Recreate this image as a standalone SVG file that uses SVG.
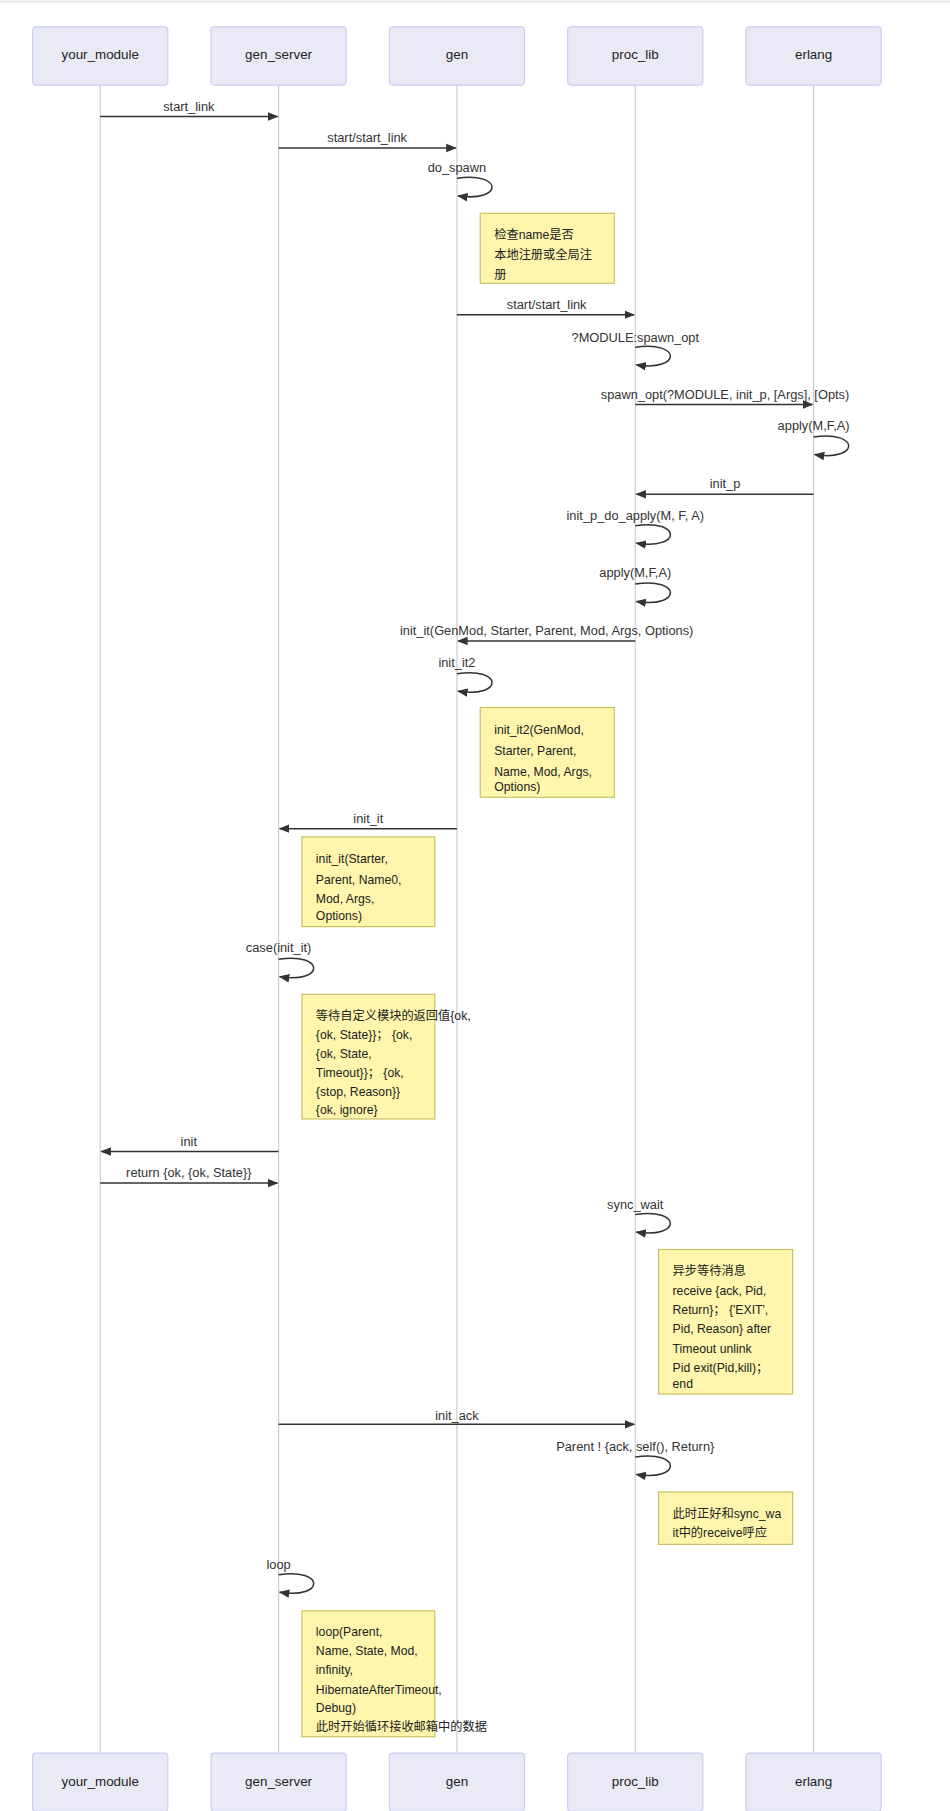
<svg xmlns="http://www.w3.org/2000/svg" width="950" height="1811" viewBox="0 0 950 1811">
<defs>
<style>
.actor{fill:#eaeaf7;stroke:#ccccf5;stroke-width:1}
.atext{font-family:"Liberation Sans","Noto Sans CJK SC",sans-serif;font-size:11.5px;fill:#222;text-anchor:middle;dominant-baseline:middle}
.life{stroke:#ccc;stroke-width:1}
.msg{stroke:#333;stroke-width:1.3;fill:none}
.mtext{font-family:"Liberation Sans","Noto Sans CJK SC",sans-serif;font-size:11px;fill:#333;text-anchor:middle}
.note{fill:#fff5ad;stroke:#c8c060;stroke-width:1}
.ntext{font-family:"Liberation Sans","Noto Sans CJK SC",sans-serif;font-size:10.5px;fill:#222}
</style>
<marker id="arr" viewBox="0 0 10 10" refX="9" refY="5" markerWidth="7" markerHeight="7" orient="auto-start-reverse"><path d="M0,1 L10,5 L0,9 z" fill="#333"/></marker>
</defs>
<rect width="950" height="1811" fill="#fff"/>
<line x1="0" y1="1.5" x2="950" y2="1.5" stroke="#e6e6e6" stroke-width="2"/>
<g transform="scale(1.1656)">
<g id="lifelines">
<line class="life" x1="86" y1="73" x2="86" y2="1505"/>
<line class="life" x1="239" y1="73" x2="239" y2="1505"/>
<line class="life" x1="392" y1="73" x2="392" y2="1505"/>
<line class="life" x1="545" y1="73" x2="545" y2="1505"/>
<line class="life" x1="698" y1="73" x2="698" y2="1505"/>
</g>
<g id="your_module"><rect class="actor" x="28" y="23" width="116" height="50" rx="3"/><text class="atext" x="86" y="48">your_module</text>
<rect class="actor" x="28" y="1504" width="116" height="50" rx="3"/><text class="atext" x="86" y="1529">your_module</text></g>
<g id="gen_server"><rect class="actor" x="181" y="23" width="116" height="50" rx="3"/><text class="atext" x="239" y="48">gen_server</text>
<rect class="actor" x="181" y="1504" width="116" height="50" rx="3"/><text class="atext" x="239" y="1529">gen_server</text></g>
<g id="gen"><rect class="actor" x="334" y="23" width="116" height="50" rx="3"/><text class="atext" x="392" y="48">gen</text>
<rect class="actor" x="334" y="1504" width="116" height="50" rx="3"/><text class="atext" x="392" y="1529">gen</text></g>
<g id="proc_lib"><rect class="actor" x="487" y="23" width="116" height="50" rx="3"/><text class="atext" x="545" y="48">proc_lib</text>
<rect class="actor" x="487" y="1504" width="116" height="50" rx="3"/><text class="atext" x="545" y="1529">proc_lib</text></g>
<g id="erlang"><rect class="actor" x="640" y="23" width="116" height="50" rx="3"/><text class="atext" x="698" y="48">erlang</text>
<rect class="actor" x="640" y="1504" width="116" height="50" rx="3"/><text class="atext" x="698" y="1529">erlang</text></g>

<g id="connectors">
<line class="msg" x1="86" y1="100" x2="238" y2="100" marker-end="url(#arr)"/><text class="mtext" x="162" y="95">start_link</text>
<line class="msg" x1="239" y1="127" x2="391" y2="127" marker-end="url(#arr)"/><text class="mtext" x="315" y="122">start/start_link</text>
<path class="msg" d="M392,153 C432,147 432,174 393,168" marker-end="url(#arr)"/><text class="mtext" x="392" y="148">do_spawn</text>
<line class="msg" x1="392" y1="270" x2="544" y2="270" marker-end="url(#arr)"/><text class="mtext" x="469" y="265">start/start_link</text>
<path class="msg" d="M545,298 C585,292 585,319 546,313" marker-end="url(#arr)"/><text class="mtext" x="545" y="293">?MODULE:spawn_opt</text>
<line class="msg" x1="545" y1="347" x2="697" y2="347" marker-end="url(#arr)"/><text class="mtext" x="622" y="342">spawn_opt(?MODULE, init_p, [Args], [Opts)</text>
<path class="msg" d="M698,375 C738,369 738,396 699,390" marker-end="url(#arr)"/><text class="mtext" x="698" y="369">apply(M,F,A)</text>
<line class="msg" x1="698" y1="424" x2="546" y2="424" marker-end="url(#arr)"/><text class="mtext" x="622" y="419">init_p</text>
<path class="msg" d="M545,451 C585,445 585,472 546,466" marker-end="url(#arr)"/><text class="mtext" x="545" y="446">init_p_do_apply(M, F, A)</text>
<path class="msg" d="M545,501 C585,495 585,522 546,516" marker-end="url(#arr)"/><text class="mtext" x="545" y="495">apply(M,F,A)</text>
<line class="msg" x1="545" y1="550" x2="393" y2="550" marker-end="url(#arr)"/><text class="mtext" x="469" y="545">init_it(GenMod, Starter, Parent, Mod, Args, Options)</text>
<path class="msg" d="M392,578 C432,572 432,599 393,593" marker-end="url(#arr)"/><text class="mtext" x="392" y="572">init_it2</text>
<line class="msg" x1="392" y1="711" x2="240" y2="711" marker-end="url(#arr)"/><text class="mtext" x="316" y="706">init_it</text>
<path class="msg" d="M239,823 C279,817 279,844 240,838" marker-end="url(#arr)"/><text class="mtext" x="239" y="817">case(init_it)</text>
<line class="msg" x1="239" y1="988" x2="87" y2="988" marker-end="url(#arr)"/><text class="mtext" x="162" y="983">init</text>
<line class="msg" x1="86" y1="1015" x2="238" y2="1015" marker-end="url(#arr)"/><text class="mtext" x="162" y="1010">return {ok, {ok, State}}</text>
<path class="msg" d="M545,1042 C585,1036 585,1063 546,1057" marker-end="url(#arr)"/><text class="mtext" x="545" y="1037">sync_wait</text>
<line class="msg" x1="239" y1="1222" x2="544" y2="1222" marker-end="url(#arr)"/><text class="mtext" x="392" y="1218">init_ack</text>
<path class="msg" d="M545,1250 C585,1244 585,1271 546,1265" marker-end="url(#arr)"/><text class="mtext" x="545" y="1245">Parent ! {ack, self(), Return}</text>
<path class="msg" d="M239,1351 C279,1345 279,1372 240,1366" marker-end="url(#arr)"/><text class="mtext" x="239" y="1346">loop</text>
</g>

<g id="note1"><rect class="note" x="412" y="183" width="115" height="60"/>
<text class="ntext" x="424" y="205">检查name是否</text><text class="ntext" x="424" y="222">本地注册或全局注</text><text class="ntext" x="424" y="239">册</text></g>
<g id="note2"><rect class="note" x="412" y="607" width="115" height="77"/>
<text class="ntext" x="424" y="630">init_it2(GenMod,</text><text class="ntext" x="424" y="648">Starter, Parent,</text><text class="ntext" x="424" y="666">Name, Mod, Args,</text><text class="ntext" x="424" y="683" dy="-4">Options)</text></g>
<g id="note3"><rect class="note" x="259" y="718" width="114" height="77"/>
<text class="ntext" x="271" y="740">init_it(Starter,</text><text class="ntext" x="271" y="758">Parent, Name0,</text><text class="ntext" x="271" y="775">Mod, Args,</text><text class="ntext" x="271" y="789">Options)</text></g>
<g id="note4"><rect class="note" x="259" y="853" width="114" height="107"/>
<text class="ntext" x="271" y="875">等待自定义模块的返回值{ok,</text><text class="ntext" x="271" y="891">{ok, State}}； {ok,</text><text class="ntext" x="271" y="908">{ok, State,</text><text class="ntext" x="271" y="924">Timeout}}； {ok,</text><text class="ntext" x="271" y="940">{stop, Reason}}</text><text class="ntext" x="271" y="956">{ok, ignore}</text></g>
<g id="note5"><rect class="note" x="565" y="1072" width="115" height="124"/>
<text class="ntext" x="577" y="1094">异步等待消息</text><text class="ntext" x="577" y="1111">receive {ack, Pid,</text><text class="ntext" x="577" y="1127">Return}； {'EXIT',</text><text class="ntext" x="577" y="1144">Pid, Reason} after</text><text class="ntext" x="577" y="1161">Timeout unlink</text><text class="ntext" x="577" y="1177">Pid exit(Pid,kill)；</text><text class="ntext" x="577" y="1194" dy="-3">end</text></g>
<g id="note6"><rect class="note" x="565" y="1280" width="115" height="45"/>
<text class="ntext" x="577" y="1302">此时正好和sync_wa</text><text class="ntext" x="577" y="1319">it中的receive呼应</text></g>
<g id="note7"><rect class="note" x="259" y="1382" width="114" height="108"/>
<text class="ntext" x="271" y="1404">loop(Parent,</text><text class="ntext" x="271" y="1420">Name, State, Mod,</text><text class="ntext" x="271" y="1436">infinity,</text><text class="ntext" x="271" y="1453">HibernateAfterTimeout,</text><text class="ntext" x="271" y="1469">Debug)</text><text class="ntext" x="271" y="1485">此时开始循环接收邮箱中的数据</text></g>
</g>
</svg>
